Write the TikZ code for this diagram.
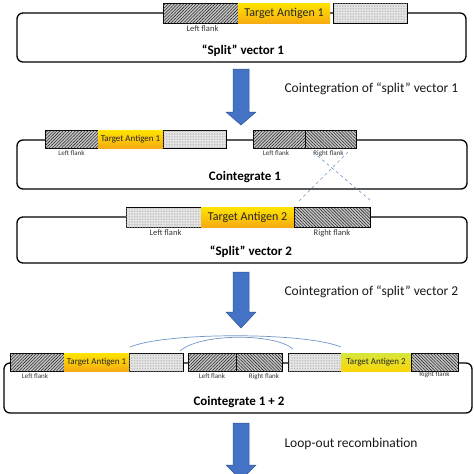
\documentclass[tikz,border=0pt]{standalone}
\usepackage{fontspec}
\setmainfont{Carlito}
\usepackage{tikz}
\usetikzlibrary{patterns, patterns.meta, positioning, calc}

\definecolor{arrowblue}{RGB}{68,114,196}
\definecolor{arrowedge}{RGB}{47,85,151}
\definecolor{agtop}{RGB}{255,228,0}
\definecolor{agbot}{RGB}{246,172,18}
\definecolor{agtopb}{RGB}{214,230,60}
\definecolor{agbotb}{RGB}{250,214,10}
\definecolor{xblue}{RGB}{112,150,200}

\tikzset{
	seg/.style={anchor=north west, inner sep=0pt, outer sep=0pt},
	flankL/.style={seg, draw=black, line width=0.9pt, fill=gray!45, postaction={pattern={Lines[angle=45, distance=2.2pt, line width=0.55pt]}, pattern color=black!85}},
	flankR/.style={seg, draw=black, line width=0.9pt, fill=gray!45, postaction={pattern={Lines[angle=-45, distance=2.2pt, line width=0.55pt]}, pattern color=black!85}},
	flankP/.style={seg, draw=black, line width=0.9pt, fill=gray!18, postaction={pattern={Dots[distance=1.6pt, radius=0.4pt]}, pattern color=gray!70}},
	antigen/.style={seg, top color=agtop, bottom color=agbot, text=black!85},
	backbone/.style={draw=black, line width=1.3pt, rounded corners=6pt},
	flanklabel/.style={inner sep=0pt, text=black!80},
	title/.style={font=\fontsize{13}{15}\selectfont\bfseries},
	steptext/.style={anchor=west, font=\fontsize{13.5}{15}\selectfont, text=black!90},
	bigarrow/.style={fill=arrowblue, draw=arrowedge, line width=0.5pt},
	crossover/.style={draw=xblue, dashed, line width=0.6pt},
	loopline/.style={draw=xblue, line width=0.7pt},
}

\begin{document}
\begin{tikzpicture}[x=1pt, y=-1pt]
	\useasboundingbox (0,0) rectangle (474,474);
	\clip (0,0) rectangle (474,474);
	
	% "Split" vector 1
	\draw[backbone] (17,13) rectangle (466,62);
	\node[flankL, minimum width=75pt, minimum height=20pt] (v1left) at (163,3) {};
	\node[antigen, minimum width=92pt, minimum height=20pt, font=\fontsize{12}{13}\selectfont] (v1ag) at (238,3) {Target Antigen 1};
	\node[flankP, minimum width=74pt, minimum height=20pt] (v1right) at (333,3) {};
	\node[flanklabel, font=\fontsize{8.5}{9}\selectfont, below=2pt of v1left, xshift=2pt] (v1leftlab) {Left flank};
	\node[title] (v1title) at (243,51) {“Split” vector 1};
	
	% Cointegrate 1
	\draw[backbone] (17,140) rectangle (467,189);
	\node[flankL, minimum width=53pt, minimum height=18pt] (c1left) at (45,130) {};
	\node[antigen, minimum width=65pt, minimum height=18pt, font=\fontsize{9}{10}\selectfont] (c1ag) at (98,130) {Target Antigen 1};
	\node[flankP, minimum width=63pt, minimum height=18pt] (c1right) at (163,130) {};
	\node[flankL, minimum width=52pt, minimum height=18pt] (c1left2) at (253,130) {};
	\node[flankR, minimum width=51pt, minimum height=18pt] (c1right2) at (305,130) {};
	\node[flanklabel, font=\fontsize{7}{8}\selectfont, below=2pt of c1left] (c1leftlab) {Left flank};
	\node[flanklabel, font=\fontsize{7}{8}\selectfont, below=2pt of c1left2, xshift=-3pt] (c1left2lab) {Left flank};
	\node[flanklabel, font=\fontsize{7}{8}\selectfont, below=2pt of c1right2, xshift=-2pt] (c1right2lab) {Right flank};
	\node[title] (c1title) at (245,177) {Cointegrate 1};
	
	% "Split" vector 2
	\draw[backbone] (17,217) rectangle (467,263);
	\node[flankP, minimum width=75pt, minimum height=20pt] (v2left) at (126,207) {};
	\node[antigen, minimum width=93pt, minimum height=20pt, font=\fontsize{12}{13}\selectfont] (v2ag) at (201,207) {Target Antigen 2};
	\node[flankR, minimum width=76pt, minimum height=20pt] (v2right) at (294,207) {};
	\node[flanklabel, font=\fontsize{8.5}{9}\selectfont, below=2pt of v2left, xshift=2pt] (v2leftlab) {Left flank};
	\node[flanklabel, font=\fontsize{8.5}{9}\selectfont, below=2pt of v2right] (v2rightlab) {Right flank};
	\node[title] (v2title) at (251,252) {“Split” vector 2};
	
	% crossover between the right flanks
	\coordinate (xa) at (313,152);
	\coordinate (xb) at (370,200);
	\coordinate (xc) at (348,152);
	\coordinate (xd) at (298,202);
	\draw[crossover] (xa) -- (xb);
	\draw[crossover] (xc) -- (xd);
	
	% Cointegrate 1 + 2
	\draw[backbone] (4,363) rectangle (472,413);
	\node[flankL, minimum width=54pt, minimum height=18pt] (c2a) at (10,353) {};
	\node[antigen, minimum width=65pt, minimum height=18pt, font=\fontsize{9}{10}\selectfont] (c2b) at (64,353) {Target Antigen 1};
	\node[flankP, minimum width=54pt, minimum height=18pt] (c2c) at (129,353) {};
	\node[flankL, minimum width=48pt, minimum height=18pt] (c2d) at (188,353) {};
	\node[flankR, minimum width=46pt, minimum height=18pt] (c2e) at (236,353) {};
	\node[flankP, minimum width=53pt, minimum height=18pt] (c2f) at (288,353) {};
	\node[seg, top color=agtopb, bottom color=agbotb, text=black!85, minimum width=70pt, minimum height=18pt, font=\fontsize{9}{10}\selectfont] (c2g) at (341,353) {Target Antigen 2};
	\node[flankR, minimum width=47pt, minimum height=18pt] (c2h) at (411,353) {};
	\node[flanklabel, font=\fontsize{7}{8}\selectfont, below=2pt of c2a, xshift=-2pt] (c2alab) {Left flank};
	\node[flanklabel, font=\fontsize{7}{8}\selectfont, below=2pt of c2d] (c2dlab) {Left flank};
	\node[flanklabel, font=\fontsize{7}{8}\selectfont, below=2pt of c2e, xshift=5pt] (c2elab) {Right flank};
	\node[flanklabel, font=\fontsize{7}{8}\selectfont, below=0.5pt of c2h] (c2hlab) {Right flank};
	\node[title] (c2title) at (239,402) {Cointegrate 1 + 2};
	
	% loop-out arcs
	\coordinate (la) at (130,347);
	\coordinate (lb) at (341,347);
	\coordinate (lc) at (180,351);
	\coordinate (ld) at (293,349);
	\draw[loopline] (la) .. controls (166,332) and (305,332) .. (lb);
	\draw[loopline] (lc) .. controls (200,333) and (275,333) .. (ld);
	
	% Block arrows between the steps
	\foreach \ya/\yb/\yc in {69/112/125, 272/312/328, 423/465/480}
	\filldraw[bigarrow] (233,\ya) -- (249,\ya) -- (249,\yb) -- (256,\yb) -- (241,\yc) -- (226,\yb) -- (233,\yb) -- cycle;
	
	\node[steptext] (step1) at (281,89) {Cointegration of “split” vector 1};
	\node[steptext] (step2) at (281,292) {Cointegration of “split” vector 2};
	\node[steptext] (step3) at (281,444) {Loop-out recombination};
	
\end{tikzpicture}
\end{document}
